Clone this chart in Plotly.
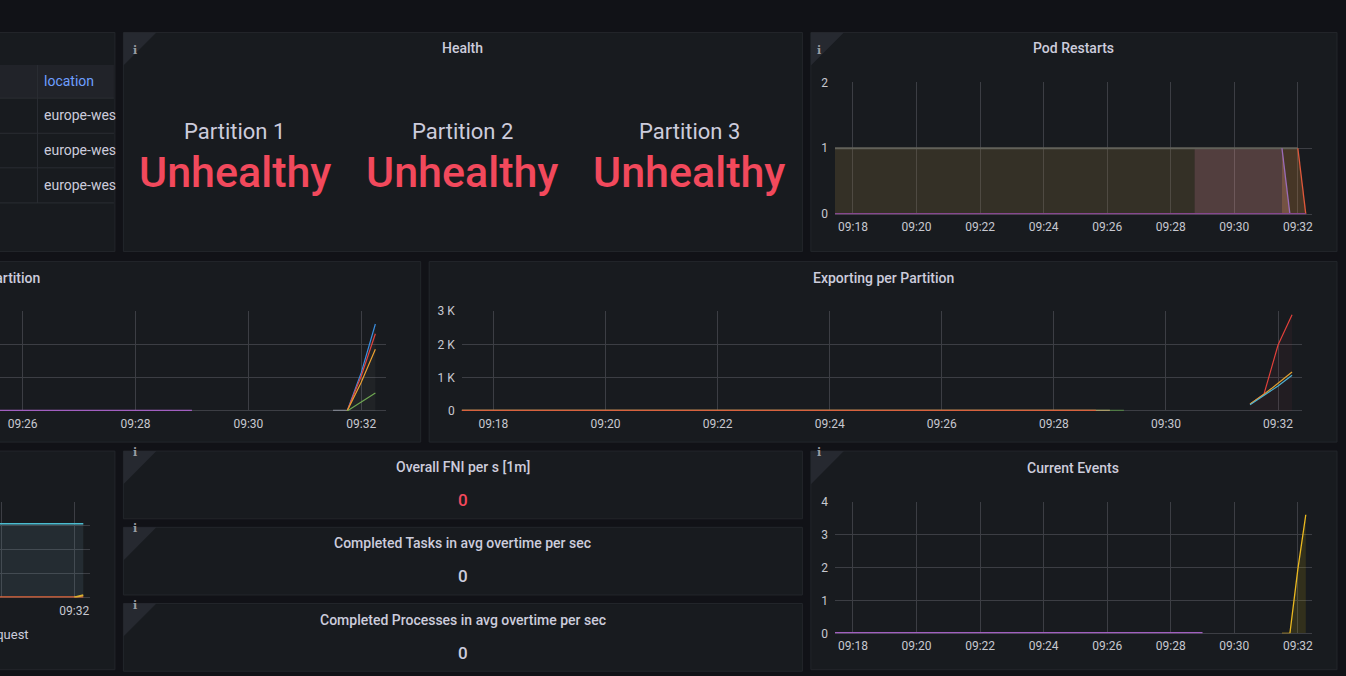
import plotly.graph_objects as go

W, H = 1346, 676
DAY = "2024-01-01 "

# ---------------- data ----------------
table_header = ["location"]
table_locations = ["europe-wes", "europe-wes", "europe-wes"]

health_partitions = ["Partition 1", "Partition 2", "Partition 3"]
health_status = ["Unhealthy", "Unhealthy", "Unhealthy"]

# Pod Restarts
pod_base_t = ["09:17:26", "09:32:15"]
pod_base_v = [0, 0]
pod_olive_t = ["09:17:26", "09:28:45"]
pod_olive_v = [1, 1]
pod_pink_t = ["09:28:45", "09:31:30", "09:31:45"]
pod_pink_v = [1, 1, 0]
pod_brown_t = ["09:31:30", "09:32:00", "09:32:15"]
pod_brown_v = [1, 1, 0]
pod_top_t = ["09:17:26", "09:32:00"]
pod_top_v = [1, 1]
pod_purple_t = ["09:31:30", "09:31:45"]
pod_purple_v = [1, 0]
pod_red_t = ["09:32:00", "09:32:15"]
pod_red_v = [1, 0]

# Processing per Partition
part_purple_t = ["09:17:26", "09:29:00"]
part_purple_v = [0, 0]
part_grey_t = ["09:31:30", "09:31:45"]
part_grey_v = [0, 0]
part_rise_t = ["09:31:45", "09:32:00", "09:32:15"]
part_blue_v = [0, 1.15, 2.61]
part_red_v = [0, 1.05, 2.32]
part_orange_v = [0, 0.86, 1.85]
part_green_v = [0, 0.27, 0.54]

# Exporting per Partition
exp_green_t = ["09:17:26", "09:29:15"]
exp_khaki_t = ["09:17:26", "09:29:00"]
exp_orange_t = ["09:17:26", "09:28:45"]
exp_zero_v = [0, 0]
exp_rise_t = ["09:31:30", "09:31:45", "09:32:00", "09:32:15"]
exp_red_v = [200, 510, 1980, 2890]
exp_orange_v = [210, 500, 830, 1170]
exp_cyan_v = [190, 480, 750, 1070]
exp_y_ticks = [0, 1000, 2000, 3000]
exp_y_labels = ["0", "1 K", "2 K", "3 K"]

# Current Events
ev_purple_t = ["09:17:26", "09:29:00"]
ev_purple_v = [0, 0]
ev_yellow_t = ["09:31:30", "09:31:45", "09:32:00", "09:32:15"]
ev_yellow_v = [0, 0, 1.95, 3.6]

# bottom-left panel
bl_cyan_t = ["09:17:26", "09:32:15"]
bl_cyan_v = [3.07, 3.07]
bl_orange_t = ["09:17:26", "09:32:15"]
bl_orange_v = [0, 0]
bl_yellow_t = ["09:32:00", "09:32:15"]
bl_yellow_v = [0, 0.1]

# stat panels
stat_titles = ["Overall FNI per s [1m]", "Completed Tasks in avg overtime per sec",
               "Completed Processes in avg overtime per sec"]
stat_values = ["0", "0", "0"]
stat_colors = ["#F2495C", "#ccccdc", "#ccccdc"]

# ---------------- style ----------------
BG = "#111217"
PANEL = "#181b1f"
BORDER = "#23262b"
GRID = "#3c3e44"
TICK = "#c7c8d0"
TEXT = "#ccccdc"
FONT = "Roboto"

# vertical calibration of the rendered page (pixel -> paper)
V_OFF, V_SPAN = 7.1, 660.2


def X(px):
    return px / W


def Y(py):
    return 1 - (py - V_OFF) / V_SPAN


def T(lst):
    return [DAY + s for s in lst]


fig = go.Figure()
shapes = []
annotations = []


def panel(x0, y0, x1, y1, info=False):
    shapes.append(dict(type="rect", xref="paper", yref="paper", x0=X(x0), x1=X(x1),
                       y0=Y(y1), y1=Y(y0), fillcolor=PANEL, line=dict(color=BORDER, width=1),
                       layer="below"))
    if info:
        s = 33
        shapes.append(dict(type="path", xref="paper", yref="paper",
                           path=f"M {X(x0)},{Y(y0)} L {X(x0 + s)},{Y(y0)} L {X(x0)},{Y(y0 + s)} Z",
                           fillcolor="#262930", line=dict(width=0), layer="below"))
        annotations.append(dict(text="i", x=X(x0 + 8), y=Y(y0 + 10), xref="paper", yref="paper",
                                showarrow=False, font=dict(family="DejaVu Serif", size=11,
                                                           color="#9a9ca3", weight="bold")))


def text(t, px, py, size=14, color=TEXT, weight=500, xanchor="center", family=FONT):
    annotations.append(dict(text=t, x=X(px), y=Y(py), xref="paper", yref="paper",
                            showarrow=False, xanchor=xanchor, yanchor="middle",
                            font=dict(family=family, size=size, color=color, weight=weight)))


# panels
panel(-5, 32.5, 115, 251)
panel(123.5, 32.5, 803, 251, info=True)
panel(811.5, 32.5, 1338, 251, info=True)
panel(-5, 261, 421, 441)
panel(429.5, 261, 1338, 441)
panel(-5, 450, 115, 668)
panel(123.5, 450, 803, 517.5, info=True)
panel(123.5, 526, 803, 593.5, info=True)
panel(123.5, 602, 803, 669.5, info=True)
panel(811.5, 450, 1338, 668, info=True)

# table
shapes.append(dict(type="rect", xref="paper", yref="paper", x0=X(-5), x1=X(114), y0=Y(98), y1=Y(65),
                   fillcolor="#212329", line=dict(width=0), layer="below"))
for ry in [98, 133, 167.5, 202.5]:
    shapes.append(dict(type="line", xref="paper", yref="paper", x0=X(-5), x1=X(114), y0=Y(ry), y1=Y(ry),
                       line=dict(color="#2a2d33", width=1), layer="below"))
shapes.append(dict(type="line", xref="paper", yref="paper", x0=X(37.5), x1=X(37.5), y0=Y(65), y1=Y(202.5),
                   line=dict(color="#2a2d33", width=1), layer="below"))
text(table_header[0], 42, 81, size=14, color="#6e9fff", weight=400, xanchor="left")
for i, loc in enumerate(table_locations):
    text(loc, 42, 115 + 35 * i, size=14, color=TEXT, weight=400, xanchor="left")

# health
text("Health", 463, 48)
for i, (p, s) in enumerate(zip(health_partitions, health_status)):
    cx = 235 + 227.5 * i
    text(p, cx, 131, size=22, color=TEXT, weight=400)
    text(s, cx, 172, size=43, color="#F2495C", weight=500)

# titles
text("Pod Restarts", 1074, 48)
text("Processing per Partition", 42, 277, xanchor="right")
text("Exporting per Partition", 884, 277)
text("Current Events", 1074, 467)
text("request", 31, 633, size=13, weight=400, xanchor="right")
for i, (st, sv, sc) in enumerate(zip(stat_titles, stat_values, stat_colors)):
    text(st, 463, 466 + 76 * i)
    text(sv, 463, 499 + 76 * i, size=17, color=sc, weight=500)


def time_axis(x0, x1, t0, t1, anchor):
    return dict(domain=[X(x0), X(x1)], range=[DAY + t0, DAY + t1], type="date", tickformat="%H:%M",
                dtick=120000, tick0=DAY + "09:18:00", showgrid=True, gridcolor=GRID, gridwidth=1,
                zeroline=False, showline=False, ticks="", ticklabelstandoff=4,
                tickfont=dict(family=FONT, size=12, color=TICK), anchor=anchor, fixedrange=True)


def val_axis(y0, y1, rng, anchor, tickvals=None, ticktext=None, show=True):
    d = dict(domain=[Y(y1), Y(y0)], range=rng, showgrid=True, gridcolor=GRID, gridwidth=1,
             zeroline=True, zerolinecolor=GRID, zerolinewidth=1, showline=False, ticks="",
             ticklabelstandoff=6, showticklabels=show,
             tickfont=dict(family=FONT, size=12, color=TICK), anchor=anchor, fixedrange=True)
    if tickvals is not None:
        d.update(tickmode="array", tickvals=tickvals, ticktext=ticktext)
    else:
        d.update(dtick=1)
    return d


layout_axes = {}
# 1 Pod restarts
layout_axes["xaxis"] = time_axis(835.6, 1312.6, "09:17:26", "09:32:26", "y")
layout_axes["yaxis"] = val_axis(82.3, 213.7, [0, 2], "x")
# 2 Partition
layout_axes["xaxis2"] = time_axis(0, 386, "09:25:36", "09:32:26", "y2")
layout_axes["yaxis2"] = val_axis(310.3, 410, [0, 3], "x2", show=False)
# 3 Exporting
layout_axes["xaxis3"] = time_axis(462, 1303.3, "09:17:26", "09:32:26", "y3")
layout_axes["yaxis3"] = val_axis(310.3, 410, [0, 3000], "x3", exp_y_ticks, exp_y_labels)
# 4 Current events
layout_axes["xaxis4"] = time_axis(835.6, 1312.6, "09:17:26", "09:32:26", "y4")
layout_axes["yaxis4"] = val_axis(500.3, 631.7, [0, 4], "x4")
# 5 bottom-left
layout_axes["xaxis5"] = time_axis(0, 90, "09:29:57", "09:32:26", "y5")
layout_axes["yaxis5"] = val_axis(500.3, 596, [0, 4], "x5", show=False)


def line(t, v, color, width=1.2, ax="", fill=None, fillcolor=None):
    fig.add_trace(go.Scatter(x=T(t), y=v, mode="lines", line=dict(color=color, width=width),
                             fill=fill, fillcolor=fillcolor, xaxis="x" + ax, yaxis="y" + ax,
                             showlegend=False, hoverinfo="skip"))


# Pod restarts
line(pod_olive_t, pod_olive_v, "rgba(0,0,0,0)", 0, "", "tozeroy", "rgba(136,111,59,0.25)")
line(pod_brown_t, pod_brown_v, "rgba(0,0,0,0)", 0, "", "tozeroy", "rgba(208,135,59,0.25)")
line(pod_pink_t, pod_pink_v, "rgba(0,0,0,0)", 0, "", "tozeroy", "rgba(255,167,155,0.25)")
line(pod_top_t, pod_top_v, "#62625a", 2, "")
line(pod_purple_t, pod_purple_v, "#9a6bb8", 1.3, "")
line(pod_red_t, pod_red_v, "#e0583a", 1.3, "")
line(pod_base_t, pod_base_v, "#86488f", 2.5, "")

# Partition
line(part_purple_t, part_purple_v, "#a15fc0", 2.5, "2")
line(part_grey_t, part_grey_v, "#7b808a", 2.5, "2")
line(part_rise_t, part_blue_v, "#3a8fe0", 1.2, "2", "tozeroy", "rgba(255,255,255,0.035)")
line(part_rise_t, part_red_v, "#e0443f", 1.2, "2")
line(part_rise_t, part_orange_v, "#eba030", 1.2, "2")
line(part_rise_t, part_green_v, "#6fa852", 1.2, "2")

# Exporting
line(exp_green_t, exp_zero_v, "#4f7a45", 2.5, "3")
line(exp_khaki_t, exp_zero_v, "#a89a68", 2.5, "3")
line(exp_orange_t, exp_zero_v, "#d8623e", 2.5, "3")
line(exp_rise_t, exp_red_v, "#e0403a", 1.2, "3", "tozeroy", "rgba(242,73,92,0.05)")
line(exp_rise_t, exp_orange_v, "#e0a030", 1.2, "3")
line(exp_rise_t, exp_cyan_v, "#4fb0d0", 1.2, "3")

# Current events
line(ev_purple_t, ev_purple_v, "#a15fc0", 2.5, "4")
line(ev_yellow_t, ev_yellow_v, "#eab820", 1.3, "4", "tozeroy", "rgba(242,204,12,0.12)")

# bottom-left
line(bl_cyan_t, bl_cyan_v, "#4bbcd0", 1.5, "5", "tozeroy", "rgba(124,169,189,0.12)")
line(bl_orange_t, bl_orange_v, "#e0643a", 2.5, "5")
line(bl_yellow_t, bl_yellow_v, "#d8b030", 2, "5")

fig.update_layout(
    width=W, height=H, margin=dict(l=0, r=0, t=0, b=0),
    paper_bgcolor=BG, plot_bgcolor="rgba(0,0,0,0)",
    font=dict(family=FONT, color=TEXT),
    shapes=shapes, annotations=annotations, showlegend=False,
    **layout_axes,
)

fig.write_html("out.html", config={"displayModeBar": False, "staticPlot": True},
               post_script="document.body.style.margin='0';document.body.style.overflow='hidden';")
